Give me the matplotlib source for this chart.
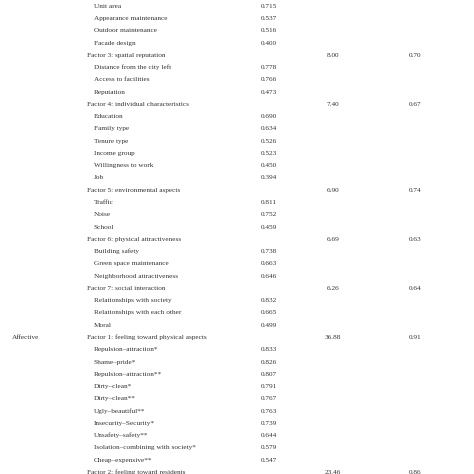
import matplotlib.pyplot as plt

labels = ["Unit area", "Appearance maintenance", "Outdoor maintenance", "Facade design",
          "Factor 3: spatial reputation", "Distance from the city left", "Access to facilities", "Reputation",
          "Factor 4: individual characteristics", "Education", "Family type", "Tenure type", "Income group",
          "Willingness to work", "Job",
          "Factor 5: environmental aspects", "Traffic", "Noise", "School",
          "Factor 6: physical attractiveness", "Building safety", "Green space maintenance",
          "Neighborhood attractiveness",
          "Factor 7: social interaction", "Relationships with society", "Relationships with each other", "Moral",
          "Factor 1: feeling toward physical aspects", "Repulsion\u2013attraction*", "Shame\u2013pride*",
          "Repulsion\u2013attraction**", "Dirty\u2013clean*", "Dirty\u2013clean**", "Ugly\u2013beautiful**",
          "Insecurity\u2013Security*", "Unsafety\u2013safety**", "Isolation\u2013combining with society*",
          "Cheap\u2013expensive**", "Factor 2: feeling toward residents"]
loadings = ["0.715", "0.537", "0.516", "0.400", "", "0.778", "0.766", "0.473", "",
            "0.690", "0.634", "0.526", "0.523", "0.450", "0.394", "", "0.811", "0.752", "0.459", "",
            "0.738", "0.663", "0.646", "", "0.832", "0.665", "0.499", "",
            "0.833", "0.826", "0.807", "0.791", "0.767", "0.763", "0.739", "0.644", "0.579", "0.547", ""]
variance = {4: "8.00", 8: "7.40", 15: "6.90", 19: "6.69", 23: "6.26", 27: "36.88", 38: "23.46"}
alpha = {4: "0.70", 8: "0.67", 15: "0.74", 19: "0.63", 23: "0.64", 27: "0.91", 38: "0.86"}
groups = {27: "Affective"}

fig = plt.figure(figsize=(4.74, 4.74), dpi=100)
ax = fig.add_axes([0, 0, 1, 1])
ax.set_xlim(0, 474)
ax.set_ylim(474, 0)
ax.axis('off')

kw = dict(family='Liberation Serif', fontsize=5.2, color='#333333', va='center')
y0, dy = 6.2, 12.27
for i, lab in enumerate(labels):
    y = y0 + i * dy
    x = 87 if lab.startswith("Factor") else 94
    ax.text(x, y, lab, **kw)
    if loadings[i]:
        ax.text(261, y, loadings[i], **kw)
    if i in variance:
        ax.text(333, y, variance[i], ha='center', **kw)
        ax.text(415, y, alpha[i], ha='center', **kw)
    if i in groups:
        ax.text(12, y, groups[i], **kw)

fig.savefig("out.png", dpi=100)
